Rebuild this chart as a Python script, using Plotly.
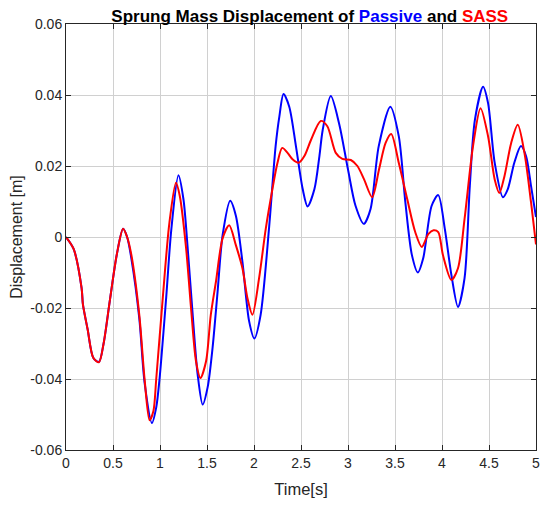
import plotly.graph_objects as go

# Passive (blue) – time [s] and displacement [m]
passive_t = [0, 0.08, 0.166, 0.18, 0.23, 0.29, 0.35, 0.40, 0.466, 0.54, 0.607, 0.65, 0.695,
             0.78, 0.836, 0.914, 0.96, 0.995, 1.066, 1.12, 1.196, 1.249, 1.295, 1.348, 1.40,
             1.454, 1.507, 1.56, 1.613, 1.666, 1.747, 1.807, 1.877, 1.948, 2.004, 2.07, 2.16,
             2.23, 2.27, 2.314, 2.375, 2.446, 2.518, 2.57, 2.643, 2.696, 2.73, 2.817, 2.905,
             3.0, 3.08, 3.168, 3.24, 3.327, 3.45, 3.54, 3.61, 3.68, 3.743, 3.80, 3.89, 3.96,
             4.03, 4.10, 4.17, 4.24, 4.296, 4.35, 4.437, 4.49, 4.56, 4.648, 4.70, 4.77, 4.84,
             4.894, 4.947, 5.0]
passive_y = [0, -0.0033, -0.0144, -0.019, -0.026, -0.034, -0.0352, -0.030, -0.018, -0.005,
             0.0023, 0.0, -0.006, -0.023, -0.041, -0.0524, -0.048, -0.040, -0.017, 0.002,
             0.0174, 0.0107, -0.0033, -0.022, -0.0386, -0.0472, -0.0423, -0.031, -0.0153,
             0.0005, 0.0102, 0.006, -0.007, -0.0237, -0.0286, -0.022, 0.0025, 0.0256, 0.034,
             0.0403, 0.0367, 0.0256, 0.0135, 0.0086, 0.0135, 0.0228, 0.030, 0.0397, 0.032,
             0.019, 0.0088, 0.0037, 0.0079, 0.0256, 0.0367, 0.0284, 0.0098, -0.0051, -0.010,
             -0.006, 0.0088, 0.0118, 0.0023, -0.0107, -0.0197, -0.0116, 0.0144, 0.033, 0.0423,
             0.0377, 0.021, 0.0112, 0.0135, 0.021, 0.0256, 0.0228, 0.0144, 0.0056]

# SASS (red)
sass_t = [0, 0.08, 0.166, 0.18, 0.23, 0.29, 0.35, 0.40, 0.466, 0.54, 0.607, 0.65, 0.695,
          0.78, 0.836, 0.889, 0.93, 0.96, 1.03, 1.10, 1.17, 1.21, 1.277, 1.33, 1.383, 1.43,
          1.49, 1.54, 1.595, 1.665, 1.736, 1.807, 1.877, 1.93, 1.983, 2.054, 2.125, 2.196,
          2.25, 2.30, 2.357, 2.41, 2.475, 2.536, 2.607, 2.71, 2.78, 2.87, 2.94, 3.03, 3.10,
          3.17, 3.257, 3.33, 3.40, 3.46, 3.54, 3.63, 3.715, 3.785, 3.856, 3.91, 3.96, 4.01,
          4.10, 4.17, 4.24, 4.33, 4.41, 4.49, 4.56, 4.61, 4.665, 4.736, 4.806, 4.877, 4.947,
          5.0]
sass_y = [0, -0.0033, -0.0144, -0.019, -0.026, -0.034, -0.0353, -0.030, -0.018, -0.005,
          0.0023, 0.0, -0.005, -0.022, -0.040, -0.0516, -0.049, -0.040, -0.017, 0.004, 0.0153,
          0.0116, -0.003, -0.020, -0.035, -0.0397, -0.035, -0.022, -0.0126, -0.0005, 0.0033,
          -0.0023, -0.0088, -0.0172, -0.0219, -0.0116, 0.0023, 0.0135, 0.0209, 0.0251, 0.0237,
          0.0219, 0.0209, 0.0228, 0.0274, 0.0327, 0.0312, 0.0237, 0.022, 0.0217, 0.020, 0.0163,
          0.0112, 0.019, 0.0265, 0.029, 0.0209, 0.0107, 0.0014, -0.0028, 0.0009, 0.0019,
          0.0014, -0.0051, -0.0121, -0.0088, 0.0051, 0.0256, 0.0363, 0.0284, 0.0163, 0.0124,
          0.0172, 0.0265, 0.0316, 0.0237, 0.0098, -0.0021]

x_ticks = [0, 0.5, 1, 1.5, 2, 2.5, 3, 3.5, 4, 4.5, 5]
x_labels = ["0", "0.5", "1", "1.5", "2", "2.5", "3", "3.5", "4", "4.5", "5"]
y_ticks = [-0.06, -0.04, -0.02, 0, 0.02, 0.04, 0.06]
y_labels = ["-0.06", "-0.04", "-0.02", "0", "0.02", "0.04", "0.06"]

FONT = "Liberation Sans, Arial, Helvetica, sans-serif"
AX = "#262626"

fig = go.Figure()
fig.add_trace(go.Scatter(x=passive_t, y=passive_y, mode="lines", name="Passive",
                         line=dict(color="#0000ff", width=2, shape="spline", smoothing=0.8)))
fig.add_trace(go.Scatter(x=sass_t, y=sass_y, mode="lines", name="SASS",
                         line=dict(color="#ff0000", width=2, shape="spline", smoothing=0.8)))

axis_common = dict(showline=True, linecolor=AX, linewidth=1, mirror="ticks",
                   ticks="inside", ticklen=5, tickcolor=AX,
                   showgrid=True, gridcolor="#d0d0d0", gridwidth=1,
                   zeroline=False, tickfont=dict(family=FONT, size=14, color=AX))

# The page places the figure 8px from the top-left corner, so the figure is
# sized to fit inside the 550x505 window.
fig.update_layout(
    width=536, height=491,
    margin=dict(l=58, r=4, t=16, b=43),
    paper_bgcolor="white", plot_bgcolor="white",
    showlegend=False,
    font=dict(family=FONT, color=AX),
    title=dict(
        text="<b>Sprung Mass Displacement of <span style='color:#0000ff'>Passive</span> "
             "and <span style='color:#ff0000'>SASS</span></b>",
        x=0.563, xanchor="center", y=0.9835, yanchor="middle",
        font=dict(family=FONT, size=17, color="black")),
    xaxis=dict(range=[0, 5], tickvals=x_ticks, ticktext=x_labels,
               title=dict(text="Time[s]", font=dict(family=FONT, size=16.5, color=AX), standoff=13),
               **axis_common),
    yaxis=dict(range=[-0.06, 0.06], tickvals=y_ticks, ticktext=y_labels,
               title=dict(text="Displacement [m]", font=dict(family=FONT, size=16, color=AX), standoff=6),
               **axis_common),
)

fig.write_html("out.html")
